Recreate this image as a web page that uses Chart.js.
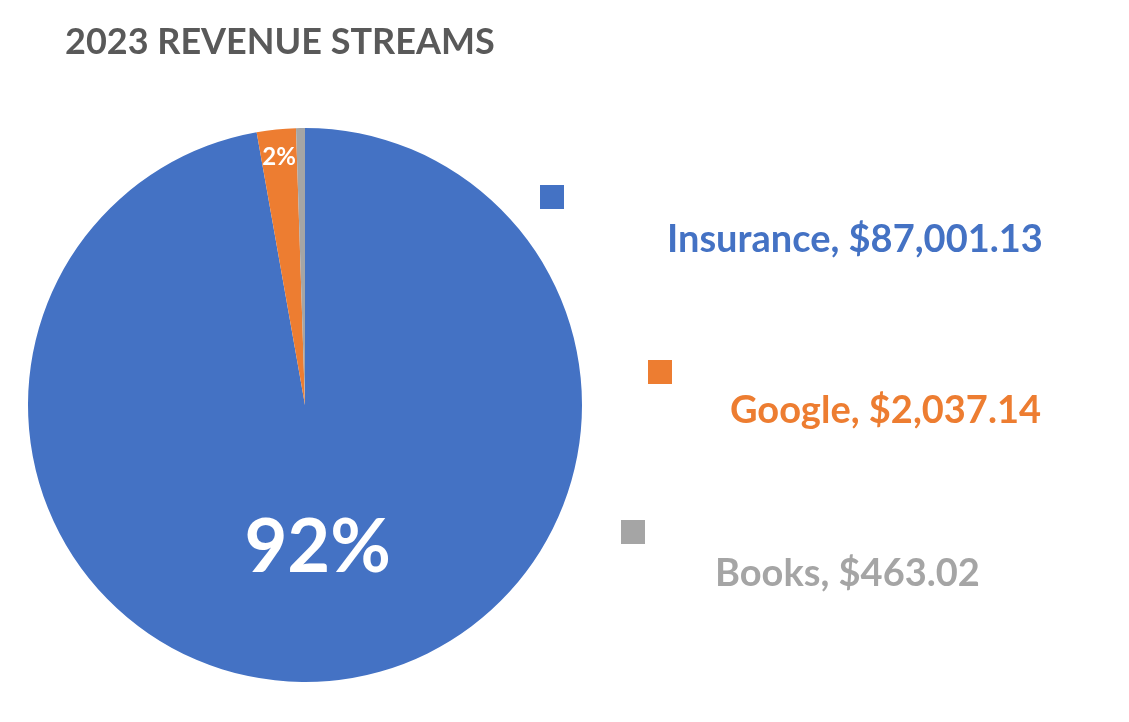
<!DOCTYPE html>
<html>
<head>
<meta charset="utf-8">
<script src="https://cdn.jsdelivr.net/npm/chart.js@4"></script>
<style>
  html, body { margin: 0; padding: 0; background: #fff; }
  #wrap { width: 1129px; height: 722px; position: relative; }
</style>
</head>
<body>
<div id="wrap"><canvas id="pieChart"></canvas></div>
<script>
// data
const categories = ['Insurance', 'Google', 'Books'];
const revenue = [87001.13, 2037.14, 463.02];
const sliceLabels = ['92%', '2%', ''];
const legendTexts = ['Insurance, $87,001.13', 'Google, $2,037.14', 'Books, $463.02'];
const colors = ['#4472C4', '#ED7D31', '#A5A5A5'];
const chartTitle = '2023 REVENUE STREAMS';

// title, slice labels and legend drawn on canvas
const overlayPlugin = {
    id: 'overlay',
    afterDraw(chart) {
        const c = chart.ctx;
        c.save();
        c.textBaseline = 'middle';
        c.fillStyle = '#595959';
        c.font = 'bold 36px Lato';
        c.textAlign = 'left';
        c.fillText(chartTitle, 65, 42);

        // labels on slices
        const arcs = chart.getDatasetMeta(0).data;
        const fontSizes = [74, 24, 0];
        const radFrac = [0.52, 0.9, 0];
        arcs.forEach(function(arc, i) {
            if (!sliceLabels[i]) return;
            const mid = (arc.startAngle + arc.endAngle) / 2;
            const r = arc.outerRadius * radFrac[i];
            c.fillStyle = '#fff';
            c.font = 'bold ' + fontSizes[i] + 'px Lato';
            c.textAlign = 'center';
            c.fillText(sliceLabels[i], arc.x + Math.cos(mid) * r, arc.y + Math.sin(mid) * r);
        });

        // legend
        const boxes = [[540, 185], [648, 360], [621, 520]];
        const texts = [[667, 240], [730, 411], [715, 574]];
        for (let i = 0; i < categories.length; i++) {
            c.fillStyle = colors[i];
            c.fillRect(boxes[i][0], boxes[i][1], 24, 24);
            c.font = 'bold 38px Lato';
            c.textAlign = 'left';
            c.fillText(legendTexts[i], texts[i][0], texts[i][1]);
        }
        c.restore();
    }
};

new Chart(document.getElementById('pieChart'), {
    type: 'pie',
    data: {
        labels: categories,
        datasets: [{
            data: revenue,
            backgroundColor: colors,
            borderWidth: 0
        }]
    },
    options: {
        responsive: true,
        maintainAspectRatio: false,
        animation: false,
        layout: { padding: { left: 28, top: 128, right: 547, bottom: 40 } },
        plugins: {
            legend: { display: false },
            tooltip: { enabled: false }
        }
    },
    plugins: [overlayPlugin]
});
</script>
</body>
</html>
